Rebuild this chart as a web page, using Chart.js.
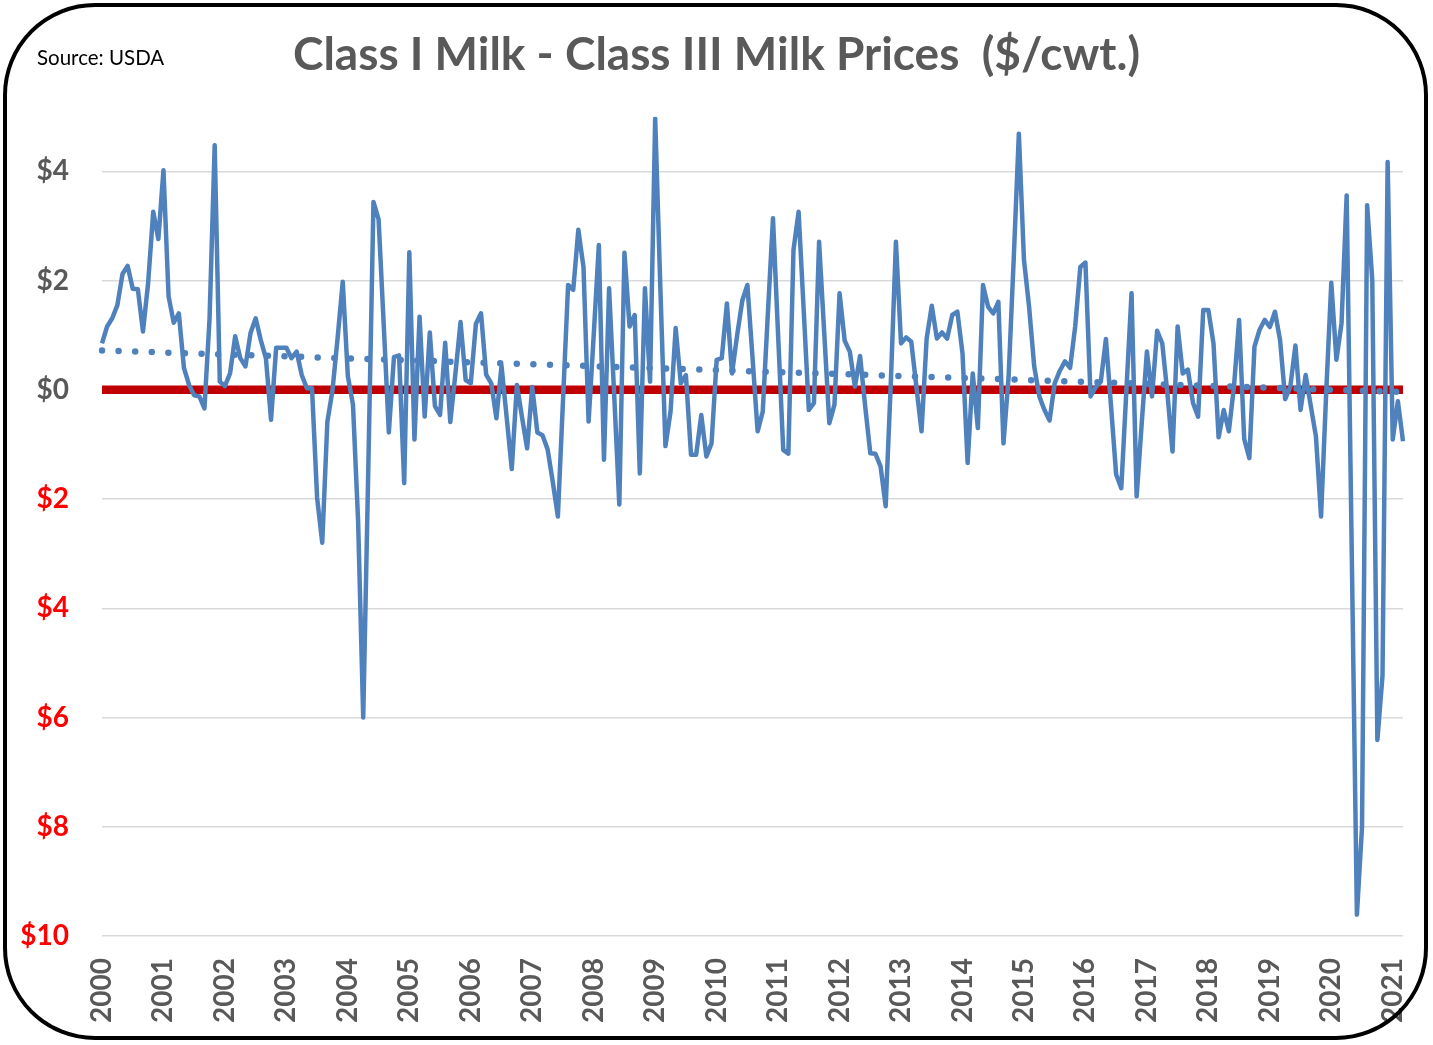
<!DOCTYPE html>
<html>
<head>
<meta charset="utf-8">
<title>Class I Milk - Class III Milk Prices</title>
<script src="https://cdn.jsdelivr.net/npm/chart.js@4.4.1/dist/chart.umd.min.js"></script>
<style>
  html, body { margin: 0; padding: 0; background: #fff; }
  #wrap { position: relative; width: 1433px; height: 1045px; overflow: hidden; background: #fff; }
  #chart { position: absolute; left: 0; top: 0; }
  #frame {
    position: absolute; left: 3px; top: 3px; width: 1425px; height: 1037px;
    box-sizing: border-box; border: 4.5px solid #000; border-radius: 92px; pointer-events: none;
  }
  #title {
    position: absolute; left: 0; top: 25px; width: 1433px; text-align: center;
    font: bold 46px/1.2 Lato, sans-serif; color: #595959; white-space: pre;
  }
  #source { position: absolute; left: 37px; top: 45px; font: 20.5px/1.2 Lato, sans-serif; color: #000; }
</style>
</head>
<body>
<div id="wrap">
  <canvas id="chart" width="1433" height="1045"></canvas>
  <div id="title">Class I Milk - Class III Milk Prices  ($/cwt.)</div>
  <div id="source">Source: USDA</div>
  <div id="frame"></div>
</div>
<script>
// years on the x axis, monthly points from Jan 2000 to Mar 2021
const years = [2000, 2001, 2002, 2003, 2004, 2005, 2006, 2007, 2008, 2009, 2010,
               2011, 2012, 2013, 2014, 2015, 2016, 2017, 2018, 2019, 2020, 2021];
const lastMonth = 3;

// Class I minus Class III, $/cwt
const spread = [
  0.85, 1.16, 1.31, 1.55, 2.12, 2.27, 1.85, 1.84, 1.07, 1.95, 3.26, 2.76,   // 2000
  4.02, 1.71, 1.23, 1.40, 0.40, 0.09, -0.10, -0.12, -0.34, 1.31, 4.48, 0.15, // 2001
  0.07, 0.30, 0.98, 0.58, 0.43, 1.04, 1.31, 0.91, 0.58, -0.55, 0.77, 0.77,  // 2002
  0.77, 0.58, 0.70, 0.27, 0.03, 0.03, -1.98, -2.80, -0.58, -0.01, 0.95, 1.98, // 2003
  0.25, -0.27, -2.40, -6.00, -1.40, 3.44, 3.12, 1.20, -0.78, 0.60, 0.63, -1.71, // 2004
  2.52, -0.91, 1.34, -0.49, 1.05, -0.30, -0.46, 0.86, -0.59, 0.30, 1.24, 0.18, // 2005
  0.12, 1.21, 1.40, 0.28, 0.12, -0.52, 0.44, -0.50, -1.45, 0.09, -0.50, -1.07, // 2006
  0.05, -0.78, -0.83, -1.09, -1.68, -2.32, -0.20, 1.92, 1.83, 2.93, 2.25, -0.58, // 2007
  1.00, 2.65, -1.28, 1.86, -0.10, -2.10, 2.51, 1.16, 1.37, -1.53, 1.86, 0.15,  // 2008
  4.97, 1.90, -1.03, -0.40, 1.13, 0.12, 0.27, -1.19, -1.19, -0.46, -1.22, -0.98, // 2009
  0.55, 0.58, 1.58, 0.30, 1.00, 1.63, 1.92, 0.60, -0.76, -0.40, 1.40, 3.14,  // 2010
  1.00, -1.10, -1.17, 2.56, 3.26, 1.45, -0.37, -0.24, 2.71, 1.05, -0.61, -0.27, // 2011
  1.77, 0.90, 0.70, 0.06, 0.62, -0.30, -1.16, -1.17, -1.40, -2.13, 0.12, 2.71, // 2012
  0.85, 0.96, 0.88, 0.05, -0.76, 0.94, 1.54, 0.94, 1.05, 0.94, 1.37, 1.43,   // 2013
  0.67, -1.34, 0.30, -0.70, 1.92, 1.52, 1.40, 1.61, -0.98, 0.24, 2.40, 4.69,  // 2014
  2.38, 1.52, 0.43, -0.12, -0.37, -0.56, 0.12, 0.35, 0.52, 0.40, 1.16, 2.25,  // 2015
  2.33, -0.12, 0.05, 0.15, 0.93, -0.30, -1.55, -1.80, 0.00, 1.77, -1.95, -0.60, // 2016
  0.70, -0.12, 1.08, 0.85, -0.06, -1.13, 1.16, 0.30, 0.37, -0.24, -0.49, 1.46, // 2017
  1.46, 0.85, -0.87, -0.37, -0.76, 0.06, 1.28, -0.90, -1.25, 0.79, 1.10, 1.28, // 2018
  1.15, 1.43, 0.91, -0.17, 0.06, 0.81, -0.37, 0.27, -0.30, -0.85, -2.32, -0.06, // 2019
  1.96, 0.55, 1.22, 3.56, -3.00, -9.61, -8.00, 3.38, 2.01, -6.41, -5.23, 4.17, // 2020
  -0.91, -0.21, -0.94                                                         // 2021
];

// linear trend line ends, as drawn
const trendStart = 0.72;
const trendEnd = -0.04;
const zeroLevel = 0;

const yTicks = [4, 2, 0, -2, -4, -6, -8, -10];
const yMin = -10;
const yMax = 5;

const categories = [];
years.forEach(y => {
    const n = y === years[years.length - 1] ? lastMonth : 12;
    for (let m = 1; m <= n; m++) {
        categories.push(y + '-' + String(m).padStart(2, '0'));
    }
});

const firstCat = categories[0];
const lastCat = categories[categories.length - 1];

function drawChart() {
    const ctx = document.getElementById('chart').getContext('2d');

    new Chart(ctx, {
        type: 'line',
        data: {
            labels: categories,
            datasets: [
                {
                    data: spread,
                    borderColor: '#4F81BD',
                    borderWidth: 4.5,
                    borderJoinStyle: 'round',
                    pointRadius: 0,
                    tension: 0,
                    fill: false
                },
                {
                    data: [{ x: firstCat, y: trendStart }, { x: lastCat, y: trendEnd }],
                    borderColor: '#4F81BD',
                    borderWidth: 6.5,
                    borderDash: [0, 16.6],
                    borderCapStyle: 'round',
                    pointRadius: 0,
                    fill: false
                },
                {
                    data: [{ x: firstCat, y: zeroLevel }, { x: lastCat, y: zeroLevel }],
                    borderColor: '#C00000',
                    borderWidth: 8.5,
                    pointRadius: 0,
                    fill: false
                }
            ]
        },
        options: {
            responsive: false,
            animation: false,
            layout: { padding: { top: 116.75, right: 30, bottom: 0, left: 0 } },
            plugins: {
                legend: { display: false },
                tooltip: { enabled: false },
                title: { display: false }
            },
            scales: {
                x: {
                    type: 'category',
                    offset: false,
                    grid: { display: false, drawTicks: false },
                    border: { display: false },
                    afterFit: axis => {
                        axis.height = 109;
                        // rotated year labels need no side room
                        axis.paddingLeft = 0;
                        axis.paddingRight = 0;
                    },
                    ticks: {
                        autoSkip: false,
                        minRotation: 90,
                        maxRotation: 90,
                        padding: 22,
                        color: '#595959',
                        font: { family: 'Lato', size: 28, weight: 'bold' },
                        callback: (value, index) => index % 12 === 0 ? categories[index].slice(0, 4) : null
                    }
                },
                y: {
                    min: yMin,
                    max: yMax,
                    afterBuildTicks: axis => { axis.ticks = yTicks.map(v => ({ value: v })); },
                    afterFit: axis => { axis.width = 102; },
                    grid: { color: '#D9D9D9', lineWidth: 1.5, drawTicks: false },
                    border: { display: false },
                    ticks: {
                        padding: 33,
                        color: c => c.tick.value < 0 ? '#FF0000' : '#595959',
                        font: { family: 'Lato', size: 28, weight: 'bold' },
                        callback: v => '$' + Math.abs(v)
                    }
                }
            }
        }
    });
}

Promise.all([
    document.fonts.load('bold 28px Lato'),
    document.fonts.load('bold 46px Lato'),
    document.fonts.load('20.5px Lato')
]).then(drawChart, drawChart);
</script>
</body>
</html>
